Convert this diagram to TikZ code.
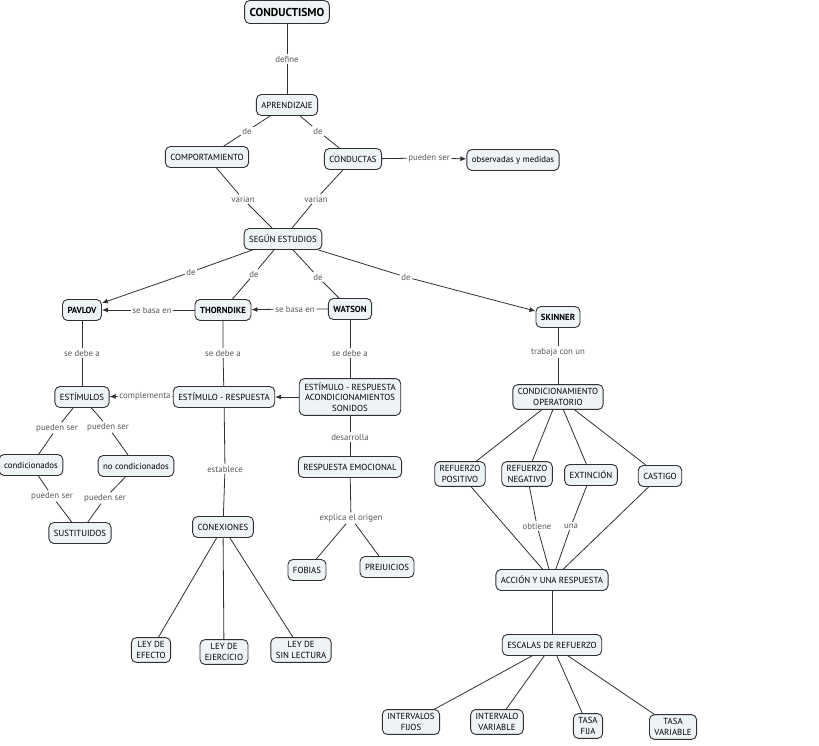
\documentclass[tikz,border=0pt]{standalone}
\usepackage{fontspec}
\setmainfont{PT Sans}
\usetikzlibrary{arrows.meta}
\definecolor{cmapfill}{HTML}{EEF3F6}
\definecolor{cmapline}{HTML}{303030}
\tikzset{
  concepto/.style={draw=cmapline, fill=cmapfill, rounded corners=5pt, line width=0.9pt,
    inner xsep=5pt, inner ysep=4pt, minimum height=21pt, font=\fontsize{8.8}{10.5}\selectfont, align=center},
  autor/.style={concepto, font=\fontsize{8.8}{10.5}\selectfont\bfseries},
  enlace/.style={fill=white, inner sep=1.5pt, text=black!65, font=\fontsize{8.8}{10}\selectfont},
  linea/.style={draw=cmapline, line width=0.8pt},
  flecha/.style={linea, -{Latex[length=6pt,width=5pt]}}
}
\begin{document}
\begin{tikzpicture}[x=1pt,y=-1pt]
		%%%%% START %%%%%
		\useasboundingbox (0,0) rectangle (819,745);
		
		% parte superior
		\node[concepto, font=\fontsize{11.5}{12}\selectfont\bfseries, minimum height=23pt] (cond) at (287,12) {CONDUCTISMO};
		\node[concepto] (apr) at (287,105) {APRENDIZAJE};
		\node[concepto] (comp) at (207,157) {COMPORTAMIENTO};
		\node[concepto] (conds) at (353,159) {CONDUCTAS};
		\node[concepto] (obs) at (513,160) {observadas y medidas};
		\node[concepto] (seg) at (283,239) {SEGÚN ESTUDIOS};
		
		\node[enlace] (lDef) at (287,59) {define};
		\node[enlace] (lDeA) at (247,131) {de};
		\node[enlace] (lDeB) at (318,131) {de};
		\node[enlace] (lPue) at (429,158) {pueden ser};
		\node[enlace] (lVarA) at (243,199) {varian};
		\node[enlace] (lVarB) at (316,199) {varian};
		
		\draw[linea] (cond) -- (lDef) -- (apr);
		\draw[linea] (apr) -- (lDeA) -- (comp);
		\draw[linea] (apr) -- (lDeB) -- (conds);
		\draw[flecha] (conds) -- (lPue) -- (obs);
		\draw[linea] (comp) -- (lVarA) -- (seg);
		\draw[linea] (conds) -- (lVarB) -- (seg);
		
		% autores
		\node[autor] (pav) at (82,310) {PAVLOV};
		\node[autor] (thor) at (223,310) {THORNDIKE};
		\node[autor] (wat) at (350,309) {WATSON};
		\node[autor] (ski) at (558,317) {SKINNER};
		
		\node[enlace] (lDe1) at (191,272) {de};
		\node[enlace] (lDe2) at (254,274) {de};
		\node[enlace] (lDe3) at (318,277) {de};
		\node[enlace] (lDe4) at (406,277) {de};
		\node[enlace] (lBasA) at (152,310) {se basa en};
		\node[enlace] (lBasB) at (295,309) {se basa en};
		
		\draw[flecha] (seg) -- (lDe1) -- (pav);
		\draw[linea] (seg) -- (lDe2) -- (thor);
		\draw[linea] (seg) -- (lDe3) -- (wat);
		\draw[flecha] (seg) -- (lDe4) -- (ski);
		\draw[flecha] (thor) -- (lBasA) -- (pav);
		\draw[flecha] (wat) -- (lBasB) -- (thor);
		
		% Pavlov
		\node[concepto] (est) at (82,397) {ESTÍMULOS};
		\node[concepto] (condi) at (31,465) {condicionados};
		\node[concepto] (nocond) at (136,466) {no condicionados};
		\node[concepto] (sust) at (80,533) {SUSTITUIDOS};
		
		\node[enlace] (lDebA) at (82,353) {se debe a};
		\node[enlace] (lPuA) at (57,428) {pueden ser};
		\node[enlace] (lPuB) at (108,427) {pueden ser};
		\node[enlace] (lPuC) at (52,496) {pueden ser};
		\node[enlace] (lPuD) at (105,498) {pueden ser};
		
		\draw[linea] (pav) -- (lDebA) -- (est);
		\draw[linea] (est) -- (lPuA) -- (condi);
		\draw[linea] (est) -- (lPuB) -- (nocond);
		\draw[linea] (condi) -- (lPuC) -- (sust);
		\draw[linea] (nocond) -- (lPuD) -- (sust);
		
		% Thorndike
		\node[concepto] (estres) at (224,397) {ESTÍMULO - RESPUESTA};
		\node[concepto] (conex) at (223,527) {CONEXIONES};
		\node[concepto] (leyA) at (151,650) {LEY DE\\EFECTO};
		\node[concepto] (leyB) at (224,652) {LEY DE\\EJERCICIO};
		\node[concepto] (leyC) at (301,650) {LEY DE\\SIN LECTURA};
		
		\node[enlace] (lDebB) at (223,353) {se debe a};
		\node[enlace] (lCom) at (145,396) {complementa};
		\node[enlace] (lEst) at (225,469) {establece};
		
		\draw[linea] (thor) -- (lDebB) -- (estres);
		\draw[flecha] (estres) -- (lCom) -- (est);
		\draw[linea] (estres) -- (lEst) -- (conex);
		\draw[linea] (conex) -- (leyA);
		\draw[linea] (conex) -- (leyB);
		\draw[linea] (conex) -- (leyC);
		
		% Watson
		\node[concepto] (acon) at (350,397) {ESTÍMULO - RESPUESTA\\ACONDICIONAMIENTOS\\SONIDOS};
		\node[concepto] (resp) at (350,467) {RESPUESTA EMOCIONAL};
		\node[concepto] (fob) at (307,570) {FOBIAS};
		\node[concepto] (prej) at (387,567) {PREJUICIOS};
		
		\node[enlace] (lDebC) at (350,353) {se debe a};
		\node[enlace] (lDes) at (350,437) {desarrolla};
		\node[enlace] (lExp) at (351,518) {explica el origen};
		
		\draw[linea] (wat) -- (lDebC) -- (acon);
		\draw[flecha] (acon) -- (estres);
		\draw[linea] (acon) -- (lDes) -- (resp);
		\draw[linea] (resp) -- (lExp);
		\draw[linea] (lExp) -- (fob);
		\draw[linea] (lExp) -- (prej);
		
		% Skinner
		\node[concepto] (oper) at (558,397) {CONDICIONAMIENTO\\OPERATORIO};
		\node[concepto] (refP) at (460,474) {REFUERZO\\POSITIVO};
		\node[concepto] (refN) at (527,474) {REFUERZO\\NEGATIVO};
		\node[concepto] (ext) at (591,475) {EXTINCIÓN};
		\node[concepto] (cast) at (660,476) {CASTIGO};
		\node[concepto] (acc) at (552,580) {ACCIÓN Y UNA RESPUESTA};
		\node[concepto] (esc) at (552,645) {ESCALAS DE REFUERZO};
		\node[concepto] (intF) at (411,722) {INTERVALOS\\FIJOS};
		\node[concepto] (intV) at (497,722) {INTERVALO\\VARIABLE};
		\node[concepto] (tasF) at (588,726) {TASA\\FIJA};
		\node[concepto] (tasV) at (673,727) {TASA\\VARIABLE};
		
		\node[enlace] (lTra) at (558,352) {trabaja con un};
		\node[enlace] (lObt) at (537,526) {obtiene};
		\node[enlace] (lUna) at (571,526) {una};
		
		\draw[linea] (ski) -- (lTra) -- (oper);
		\draw[linea] (oper) -- (refP);
		\draw[linea] (oper) -- (refN);
		\draw[linea] (oper) -- (ext);
		\draw[linea] (oper) -- (cast);
		\draw[linea] (refP) -- (acc);
		\draw[linea] (refN) -- (lObt) -- (acc);
		\draw[linea] (ext) -- (lUna) -- (acc);
		\draw[linea] (cast) -- (acc);
		\draw[linea] (acc) -- (esc);
		\draw[linea] (esc) -- (intF);
		\draw[linea] (esc) -- (intV);
		\draw[linea] (esc) -- (tasF);
		\draw[linea] (esc) -- (tasV);
		
		%%%%% END %%%%%
\end{tikzpicture}
\end{document}
